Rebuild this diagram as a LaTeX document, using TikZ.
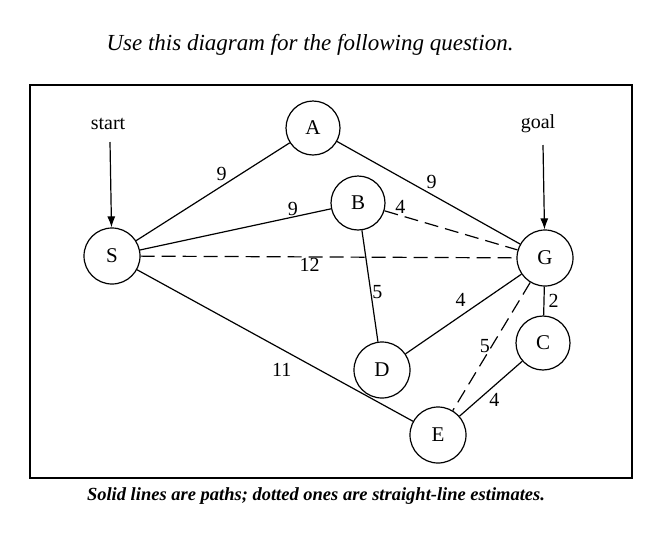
\documentclass[tikz,border=0pt]{standalone}
\usepackage{fontspec}
\usetikzlibrary{arrows.meta}
\setmainfont{Liberation Serif}
\begin{document}
\begin{tikzpicture}[x=1pt,y=-1pt,
  st/.style={circle,draw,line width=1.2pt,minimum size=56pt,inner sep=0pt,font=\fontsize{21}{24}\selectfont},
  sol/.style={line width=1.2pt},
  dsh/.style={line width=1.2pt,dash pattern=on 14pt off 7pt},
  lb/.style={font=\fontsize{20}{22}\selectfont,inner sep=1pt},
  arr/.style={line width=1.2pt,-{Latex[length=11pt,width=8pt]}}]
\useasboundingbox (0,0) rectangle (660,539);
\draw[line width=1.2pt] (30,85) rectangle (632,478);
\node[font=\fontsize{23}{26}\selectfont\itshape] (title) at (310,45) {Use this diagram for the following question.};
\node[font=\fontsize{18.5}{21}\selectfont\bfseries\itshape] (cap) at (316,496) {Solid lines are paths; dotted ones are straight-line estimates.};
\node[st,minimum size=54pt] (A) at (313,128) {A};
\node[st] (S) at (112,256) {S};
\node[st,minimum size=54pt] (B) at (358,203) {B};
\node[st] (G) at (545,258) {G};
\node[st] (D) at (382,370) {D};
\node[st,minimum size=54pt] (C) at (543,343) {C};
\node[st] (E) at (438,435) {E};
\node[lb] (start) at (108,124) {start};
\node[lb] (goal) at (538,124) {goal};
\coordinate (s0) at (110,142);
\coordinate (g0) at (543,145);
\draw[arr] (s0) -- (S);
\draw[arr] (g0) -- (G);
\draw[sol] (S) -- node[lb,pos=0.6,above left] {9} (A);
\draw[sol] (S) -- node[lb,pos=0.8,above] {9} (B);
\draw[sol] (A) -- node[lb,pos=0.48,above right] {9} (G);
\draw[dsh] (B) -- node[lb,pos=0.12,above] {4} (G);
\draw[dsh] (S) -- node[lb,pos=0.45,below] {12} (G);
\draw[sol] (B) -- node[lb,pos=0.55,right] {5} (D);
\draw[sol] (D) -- node[lb,pos=0.55,above left=2pt] {4} (G);
\draw[sol] (G) -- node[lb,right=3pt] {2} (C);
\draw[dsh] (G) -- node[lb,pos=0.5,left] {5} (E);
\draw[sol] (C) -- node[lb,pos=0.55,below right] {4} (E);
\draw[sol] (S) -- node[lb,pos=0.58,below left=4pt] {11} (E);
\end{tikzpicture}
\end{document}
